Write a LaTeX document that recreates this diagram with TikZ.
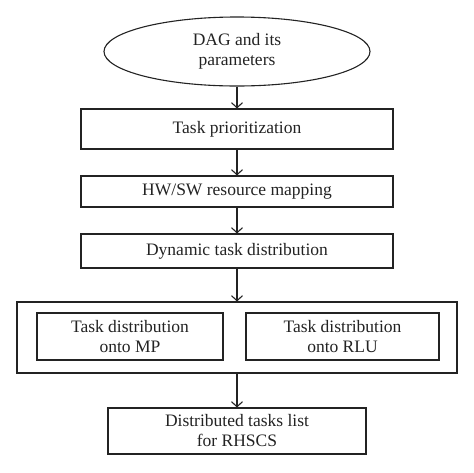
\documentclass[tikz,border=0pt]{standalone}
\usepackage{fontspec}
\setmainfont{Liberation Serif}
\usepackage{tikz}
\usetikzlibrary{shapes,arrows,arrows.meta,positioning}
\definecolor{LineGray}{RGB}{35,35,35}

\begin{document}
\begin{tikzpicture}[node distance=60pt,font=\fontsize{17.5}{20}\selectfont,text=LineGray,
    box/.style={rectangle,draw=LineGray,line width=1.1pt,align=center,inner sep=0pt}]
    \useasboundingbox (0,0) rectangle (474pt,-472pt);
    \node[ellipse,draw=LineGray,line width=1.1pt,align=center,inner sep=0pt,minimum width=266pt,minimum height=69pt] (dag) at (237pt,-51.5pt) {DAG and its\\parameters};
    \node[box,minimum width=312pt,minimum height=40pt,below of=dag,yshift=-17.5pt] (prio) {Task prioritization};
    \node[box,minimum width=312pt,minimum height=31pt,below of=prio,yshift=-2.5pt] (mapping) {HW/SW resource mapping};
    \node[box,minimum width=312pt,minimum height=34pt,below of=mapping,yshift=0.5pt] (dyndist) {Dynamic task distribution};
    \node[box,minimum width=440pt,minimum height=71pt,below of=dyndist,yshift=-26.5pt] (distgroup) {};
    \node[box,minimum width=186pt,minimum height=47pt] (ontomp) at ([xshift=-107pt,yshift=1pt]distgroup.center) {Task distribution\\onto MP};
    \node[box,minimum width=193pt,minimum height=47pt] (ontorlu) at ([xshift=105.5pt,yshift=1pt]distgroup.center) {Task distribution\\onto RLU};
    \node[box,minimum width=258pt,minimum height=46pt,below of=distgroup,yshift=-33.5pt] (tasklist) {Distributed tasks list\\for RHSCS};

    \draw[-{Straight Barb[length=5pt,width=11pt]},line width=1.1pt,color=LineGray] (dag) -- (prio);
    \draw[-{Straight Barb[length=5pt,width=11pt]},line width=1.1pt,color=LineGray] (prio) -- (mapping);
    \draw[-{Straight Barb[length=5pt,width=11pt]},line width=1.1pt,color=LineGray] (mapping) -- (dyndist);
    \draw[-{Straight Barb[length=5pt,width=11pt]},line width=1.1pt,color=LineGray] (dyndist) -- (distgroup);
    \draw[-{Straight Barb[length=5pt,width=11pt]},line width=1.1pt,color=LineGray] (distgroup) -- (tasklist);
\end{tikzpicture}
\end{document}
